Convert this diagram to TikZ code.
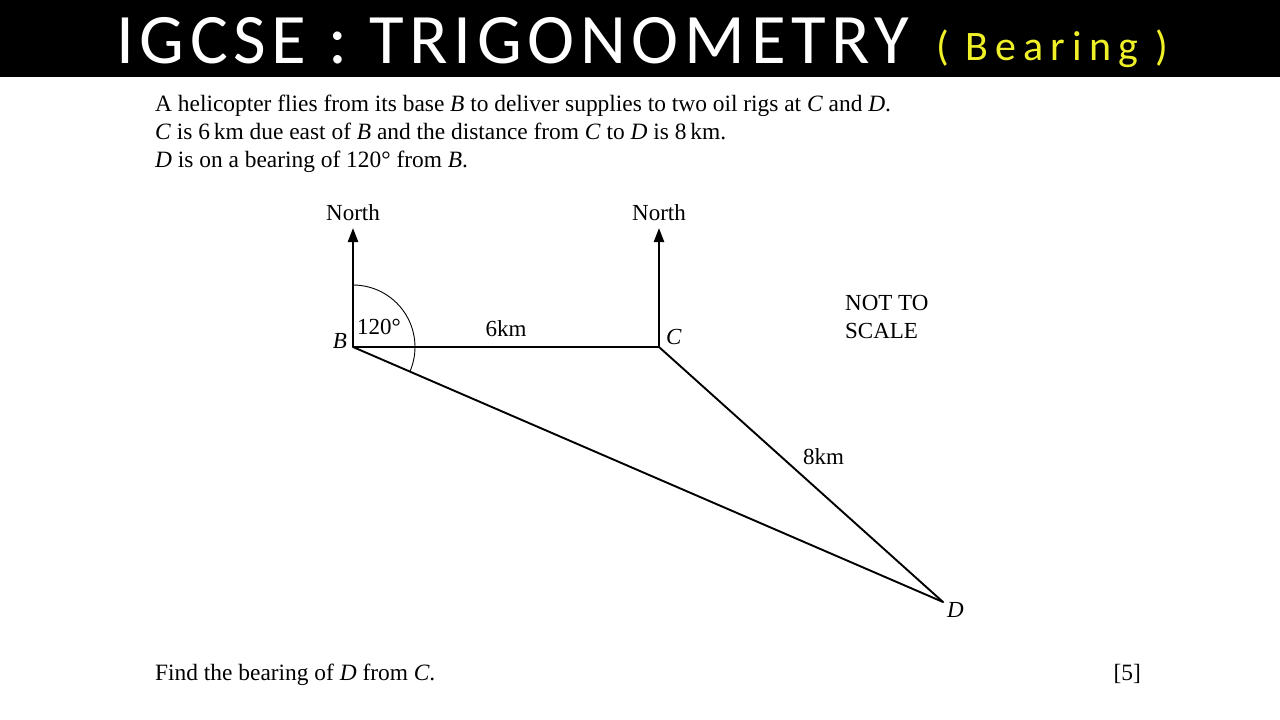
\documentclass[tikz,border=0pt]{standalone}
\usepackage{fontspec}
\setmainfont{Liberation Serif}
\newfontfamily\titlefont[LetterSpace=8]{Carlito}
\newfontfamily\subfont[LetterSpace=17]{Carlito}
\usetikzlibrary{arrows.meta}
\definecolor{titleyellow}{RGB}{240,240,40}
\begin{document}
\begin{tikzpicture}[x=1pt,y=-1pt,
  txt/.style={inner sep=0pt,anchor=base west,font=\fontsize{23.4}{28}\selectfont},
  lbl/.style={inner sep=0pt,font=\fontsize{23}{28}\selectfont},
  edge/.style={line width=1.9pt,line cap=round},
  northarrow/.style={line width=2.3pt,-{Triangle[length=14pt,width=10pt]}}]
\useasboundingbox (0,0) rectangle (1280,720);
\fill[black] (0,0) rectangle (1280,77);
\node[inner sep=0pt,anchor=base west,text=white,font=\titlefont\fontsize{71}{74}\selectfont] (title) at (116,63) {IGCSE : TRIGONOMETRY};
\node[inner sep=0pt,anchor=base west,text=titleyellow,font=\subfont\fontsize{42}{44}\selectfont] (sub) at (936,60) {( Bearing )};
% question text
\node[txt] (l1) at (155,111) {A helicopter flies from its base \textit{B} to deliver supplies to two oil rigs at \textit{C} and \textit{D}.};
\node[txt] (l2) at (155,139) {\textit{C} is 6\,km due east of \textit{B} and the distance from \textit{C} to \textit{D} is 8\,km.};
\node[txt] (l3) at (155,167) {\textit{D} is on a bearing of 120° from \textit{B}.};
% diagram
\coordinate (B) at (353,347);
\coordinate (C) at (659,347);
\coordinate (D) at (943,602);
\coordinate (NB) at (353,228);
\coordinate (NC) at (659,228);
\draw[northarrow] (B) -- (NB);
\draw[northarrow] (C) -- (NC);
\draw[edge] (B) -- (C);
\draw[edge] (B) -- (D);
\draw[edge] (C) -- (D);
\draw[line width=0.9pt] (353,285) arc[start angle=-90,end angle=23.4,radius=62];
\node[lbl,anchor=base] (northB) at (353,220) {North};
\node[lbl,anchor=base] (northC) at (659,220) {North};
\node[lbl,anchor=base east] (labB) at (347,348) {\textit{B}};
\node[lbl,anchor=base west] (labC) at (666,344) {\textit{C}};
\node[lbl,anchor=base west] (ang) at (357,334) {120°};
\node[lbl,anchor=base] (d6) at (506,336) {6km};
\node[lbl,anchor=base west] (d8) at (803,464) {8km};
\node[lbl,anchor=base west] (nts1) at (845,310) {NOT TO};
\node[lbl,anchor=base west] (nts2) at (845,338) {SCALE};
\node[lbl,anchor=base west] (labD) at (947,617) {\textit{D}};
\node[txt] (find) at (155,680) {Find the bearing of \textit{D} from \textit{C}.};
\node[txt,anchor=base east] (marks) at (1141,680) {[5]};
\end{tikzpicture}
\end{document}
